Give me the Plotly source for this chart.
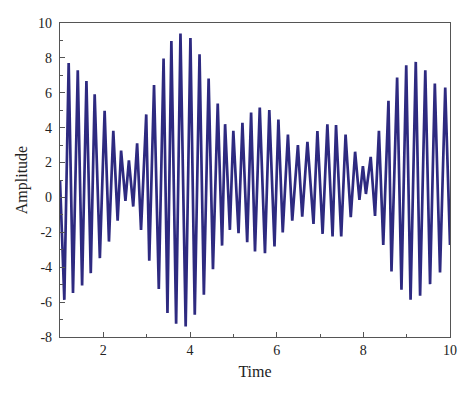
import plotly.graph_objects as go

time = [1.00, 1.10, 1.20, 1.30, 1.41, 1.51, 1.61, 1.71, 1.80, 1.92, 2.03, 2.13, 2.23, 2.33, 2.41,
        2.51, 2.59, 2.69, 2.78, 2.87, 2.99, 3.06, 3.17, 3.28, 3.39, 3.48, 3.57, 3.68, 3.78, 3.90,
        4.01, 4.11, 4.22, 4.32, 4.43, 4.53, 4.64, 4.74, 4.81, 4.92, 5.00, 5.12, 5.21, 5.32, 5.41,
        5.50, 5.61, 5.73, 5.83, 5.95, 6.04, 6.14, 6.26, 6.36, 6.49, 6.59, 6.71, 6.85, 6.94, 7.06,
        7.17, 7.29, 7.37, 7.49, 7.59, 7.71, 7.81, 7.91, 7.99, 8.06, 8.17, 8.27, 8.36, 8.46, 8.58,
        8.65, 8.78, 8.88, 8.99, 9.09, 9.21, 9.31, 9.43, 9.54, 9.65, 9.77, 9.89, 10.00]

amplitude = [1.0, -5.87, 7.71, -5.48, 7.29, -5.04, 6.68, -4.34, 5.92, -3.48, 4.97, -2.53, 3.82, -1.33,
             2.68, -0.2, 2.13, -0.52, 3.10, -1.86, 4.76, -3.63, 6.44, -5.25, 7.96, -6.63, 8.97, -7.24,
             9.39, -7.39, 9.14, -6.72, 8.21, -5.58, 6.82, -4.11, 5.39, -2.76, 4.20, -1.86, 3.82, -2.05,
             4.28, -2.56, 4.87, -3.10, 5.16, -3.19, 5.01, -2.81, 4.47, -2.01, 3.61, -1.33, 3.00, -1.10,
             3.19, -1.52, 3.80, -2.09, 4.19, -2.24, 4.15, -2.24, 3.61, -1.13, 2.62, -0.14, 1.80, 0.2,
             2.33, -1.06, 3.82, -2.72, 5.54, -4.24, 6.88, -5.29, 7.58, -5.86, 7.77, -5.63, 7.29, -4.97,
             6.53, -4.30, 6.30, -2.72]

x_tick_vals = [2, 4, 6, 8, 10]
x_tick_text = ["2", "4", "6", "8", "10"]
x_minor_vals = [3, 5, 7, 9]
y_tick_vals = [-8, -6, -4, -2, 0, 2, 4, 6, 8, 10]
y_tick_text = ["-8", "-6", "-4", "-2", "0", "2", "4", "6", "8", "10"]
y_minor_vals = [-7, -5, -3, -1, 1, 3, 5, 7, 9]

line_color = "#2e2a80"
axis_color = "#555555"
font_family = "Liberation Serif"

fig = go.Figure()
fig.add_trace(go.Scatter(x=time, y=amplitude, mode="lines",
                         line=dict(color=line_color, width=2.7), showlegend=False))

axis_common = dict(showgrid=False, zeroline=False, showline=True, linecolor=axis_color,
                   linewidth=1.2, mirror=True, ticks="inside", ticklen=5, tickwidth=1,
                   tickcolor=axis_color, tickfont=dict(family=font_family, size=14, color="#222"))

fig.update_xaxes(range=[1, 10], tickvals=x_tick_vals, ticktext=x_tick_text,
                 minor=dict(tickvals=x_minor_vals, ticks="inside", ticklen=3, tickcolor=axis_color),
                 title=dict(text="Time", font=dict(family=font_family, size=16, color="#222"), standoff=8),
                 **axis_common)
fig.update_yaxes(range=[-8, 10], tickvals=y_tick_vals, ticktext=y_tick_text,
                 minor=dict(tickvals=y_minor_vals, ticks="inside", ticklen=3, tickcolor=axis_color),
                 title=dict(text="Amplitude", font=dict(family=font_family, size=16, color="#222"), standoff=6),
                 ticklabelstandoff=4,
                 **axis_common)

fig.update_layout(width=474, height=394, margin=dict(l=60, r=24, t=23, b=57),
                  plot_bgcolor="white", paper_bgcolor="white")

fig.write_html("out.html")
